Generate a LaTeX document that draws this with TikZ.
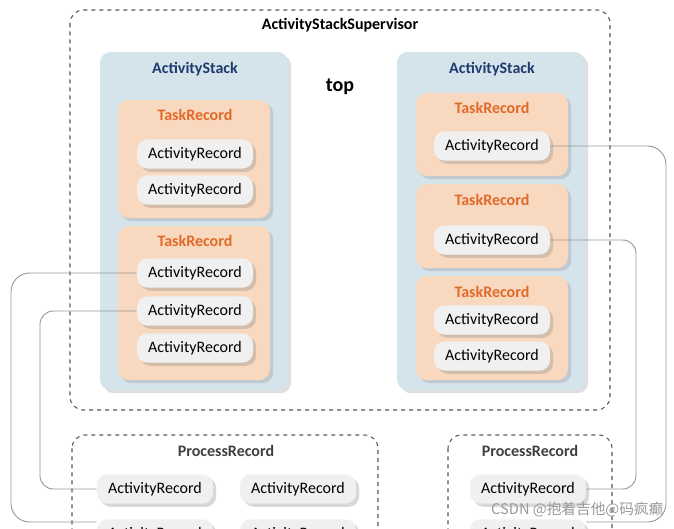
\documentclass[tikz,border=0pt]{standalone}
\usepackage{fontspec}
\setmainfont{Carlito}
\newfontfamily\cjk{Noto Sans CJK SC}
\usetikzlibrary{shadows}
\definecolor{stackfill}{HTML}{D5E3EB}
\definecolor{taskfill}{HTML}{F8D8BF}
\definecolor{navy}{HTML}{1F3A6E}
\definecolor{orangetxt}{HTML}{E06A2A}
\definecolor{arfill}{HTML}{F0F0F0}
\begin{document}
\begin{tikzpicture}[x=0.75pt,y=-0.75pt,
  dashbox/.style={draw=gray!70!black,dashed,rounded corners=10pt,line width=0.8pt},
  stackbox/.style={fill=stackfill,rounded corners=8pt,drop shadow={opacity=0.25}},
  taskbox/.style={fill=taskfill,rounded corners=8pt,drop shadow={opacity=0.25}},
  arbox/.style={fill=arfill,rounded corners=8pt,minimum width=87pt,minimum height=22pt,inner sep=0pt,font=\fontsize{12}{14}\selectfont,drop shadow={opacity=0.3}},
  sttl/.style={font=\bfseries\fontsize{12}{14}\selectfont,text=navy},
  tttl/.style={font=\bfseries\fontsize{12}{14}\selectfont,text=orangetxt},
  conn/.style={draw=gray!80,line width=0.7pt,rounded corners=10pt}]
\useasboundingbox (0,0) rectangle (674,528);
\clip (0,0) rectangle (674,528);
\fill[white] (0,0) rectangle (674,528);
\draw[dashbox] (70,10) rectangle (610,410);
\node[font=\bfseries\fontsize{12}{14}\selectfont] (sup) at (340,25) {ActivityStackSupervisor};
\node[font=\bfseries\fontsize{15}{17}\selectfont] (top) at (340,87) {top};
% left stack
\path[stackbox] (100,52) rectangle (288,390);
\node[sttl] (ls) at (195,69) {ActivityStack};
\path[taskbox] (118,100) rectangle (270,218);
\node[tttl] (lt1) at (195,115) {TaskRecord};
\node[arbox] (la1) at (195,154) {ActivityRecord};
\node[arbox] (la2) at (195,190) {ActivityRecord};
\path[taskbox] (118,226) rectangle (270,380);
\node[tttl] (lt2) at (195,241) {TaskRecord};
\node[arbox] (la3) at (195,273) {ActivityRecord};
\node[arbox] (la4) at (195,311) {ActivityRecord};
\node[arbox] (la5) at (195,348) {ActivityRecord};
% right stack
\path[stackbox] (397,52) rectangle (585,390);
\node[sttl] (rs) at (492,69) {ActivityStack};
\path[taskbox] (416,93) rectangle (568,176);
\node[tttl] (rt1) at (492,108) {TaskRecord};
\node[arbox] (ra1) at (492,146) {ActivityRecord};
\path[taskbox] (416,184) rectangle (568,268);
\node[tttl] (rt2) at (492,200) {TaskRecord};
\node[arbox] (ra2) at (492,240) {ActivityRecord};
\path[taskbox] (416,276) rectangle (568,380);
\node[tttl] (rt3) at (492,292) {TaskRecord};
\node[arbox] (ra3) at (492,320) {ActivityRecord};
\node[arbox] (ra4) at (492,356) {ActivityRecord};
% process records
\draw[dashbox] (72,435) rectangle (378,560);
\node[sttl,text=black!75] (p1) at (226,451) {ProcessRecord};
\node[arbox] (pa1) at (155,489) {ActivityRecord};
\node[arbox] (pa2) at (298,489) {ActivityRecord};
\node[arbox] (pa3) at (155,534) {ActivityRecord};
\node[arbox] (pa4) at (298,534) {ActivityRecord};
\draw[dashbox] (448,435) rectangle (612,560);
\node[sttl,text=black!75] (p2) at (530,451) {ProcessRecord};
\node[arbox] (pa5) at (528,489) {ActivityRecord};
\node[arbox] (pa6) at (528,534) {ActivityRecord};
% connectors
\draw[conn,rounded corners=14pt] (la3.west) -- (11,273) -- (11,522) -- (pa3.west |- 0,522);
\draw[conn] (la4.west) -- (40,311) -- (40,489) -- (pa1.west);
\draw[conn] (ra2.east) -- (636,240) -- (636,489) -- (pa5.east);
\draw[conn,rounded corners=14pt] (ra1.east) -- (666,146) -- (666,522) -- (pa6.east |- 0,522);
\node[font=\cjk\fontsize{11}{13}\selectfont,text=gray!80,anchor=east] (wm) at (668,510) {CSDN @抱着吉他@码疯癫};
\end{tikzpicture}
\end{document}
